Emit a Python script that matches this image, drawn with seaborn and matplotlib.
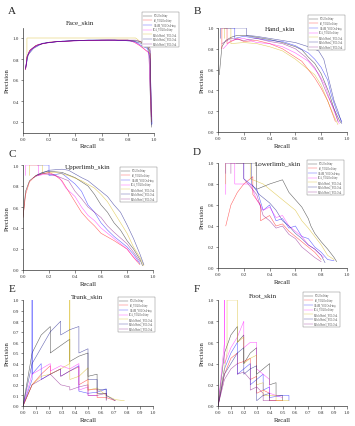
import numpy as np
import pandas as pd
import seaborn as sns
import matplotlib.pyplot as plt

# model names (legend)
models = ["YOLOv4-tiny", "SE_YOLOv4-tiny", "CBAM_YOLOv4-tiny", "ECA_YOLOv4-tiny",
          "MobileNetv1_YOLOv4", "MobileNetv2_YOLOv4", "MobileNetv3_YOLOv4"]
# origin-like default colours
colors = ["#000000", "#FF0000", "#0000FF", "#FF00FF", "#D2B000", "#000080", "#800080"]

# ---- A : Face_skin ----
face_recall = [
    [0.02, 0.03, 0.05, 0.1, 0.2, 0.4, 0.6, 0.8, 0.88, 0.93, 0.96, 0.97, 0.98],
    [0.02, 0.03, 0.05, 0.1, 0.2, 0.4, 0.6, 0.8, 0.85, 0.9, 0.94, 0.97, 0.98],
    [0.02, 0.04, 0.08, 0.15, 0.3, 0.5, 0.7, 0.85, 0.9, 0.95, 0.97, 0.985],
    [0.02, 0.03, 0.06, 0.12, 0.25, 0.45, 0.65, 0.82, 0.88, 0.92, 0.96, 0.98],
    [0.03, 0.03, 0.86, 0.9, 0.95, 0.97, 0.98],
    [0.02, 0.04, 0.08, 0.15, 0.3, 0.5, 0.7, 0.84, 0.9, 0.94, 0.97, 0.98],
    [0.02, 0.03, 0.06, 0.12, 0.25, 0.45, 0.65, 0.86, 0.91, 0.95, 0.97, 0.98],
]
face_prec = [
    [0.70, 0.82, 0.88, 0.93, 0.96, 0.975, 0.98, 0.98, 0.97, 0.95, 0.93, 0.5, 0.15],
    [0.70, 0.81, 0.88, 0.93, 0.96, 0.975, 0.98, 0.98, 0.96, 0.92, 0.88, 0.85, 0.20],
    [0.72, 0.85, 0.91, 0.95, 0.97, 0.98, 0.98, 0.97, 0.93, 0.9, 0.8, 0.18],
    [0.70, 0.82, 0.89, 0.94, 0.965, 0.975, 0.98, 0.975, 0.94, 0.9, 0.86, 0.22],
    [0.80, 1.0, 1.0, 0.96, 0.93, 0.85, 0.20],
    [0.71, 0.84, 0.90, 0.95, 0.97, 0.98, 0.98, 0.97, 0.95, 0.92, 0.88, 0.17],
    [0.70, 0.82, 0.89, 0.94, 0.965, 0.975, 0.98, 0.98, 0.96, 0.94, 0.9, 0.25],
]

# ---- B : Hand_skin ----
hand_recall = [
    [0.01, 0.03, 0.06, 0.1, 0.15, 0.2, 0.25, 0.3, 0.4, 0.5, 0.6, 0.65, 0.7, 0.75, 0.8, 0.83, 0.86, 0.88, 0.9, 0.93, 0.95],
    [0.03, 0.03, 0.07, 0.07, 0.15, 0.2, 0.3, 0.4, 0.5, 0.6, 0.65, 0.7, 0.75, 0.8, 0.85, 0.88, 0.91],
    [0.05, 0.13, 0.13, 0.2, 0.3, 0.4, 0.5, 0.6, 0.7, 0.75, 0.8, 0.85, 0.88, 0.92, 0.96],
    [0.04, 0.1, 0.2, 0.3, 0.4, 0.5, 0.6, 0.7, 0.78, 0.83, 0.87, 0.9, 0.94],
    [0.05, 0.05, 0.1, 0.1, 0.2, 0.3, 0.4, 0.5, 0.6, 0.7, 0.75, 0.8, 0.85, 0.9, 0.93],
    [0.02, 0.02, 0.22, 0.22, 0.3, 0.4, 0.5, 0.6, 0.7, 0.78, 0.82, 0.84, 0.87, 0.9, 0.93, 0.96],
    [0.03, 0.1, 0.2, 0.3, 0.4, 0.5, 0.6, 0.68, 0.75, 0.8, 0.85, 0.9, 0.93],
]
hand_prec = [
    [0.55, 0.82, 0.88, 0.91, 0.93, 0.93, 0.92, 0.91, 0.89, 0.86, 0.82, 0.79, 0.72, 0.66, 0.56, 0.47, 0.38, 0.3, 0.22, 0.14, 0.09],
    [0.8, 1.0, 1.0, 0.85, 0.9, 0.87, 0.88, 0.85, 0.8, 0.72, 0.68, 0.6, 0.52, 0.42, 0.3, 0.2, 0.1],
    [1.0, 1.0, 0.9, 0.92, 0.9, 0.88, 0.87, 0.83, 0.76, 0.7, 0.62, 0.5, 0.35, 0.2, 0.1],
    [0.8, 0.88, 0.9, 0.86, 0.85, 0.82, 0.76, 0.68, 0.56, 0.45, 0.3, 0.2, 0.08],
    [0.9, 1.0, 1.0, 0.85, 0.86, 0.85, 0.82, 0.78, 0.7, 0.6, 0.55, 0.45, 0.3, 0.15, 0.07],
    [0.9, 1.0, 1.0, 0.93, 0.92, 0.9, 0.88, 0.86, 0.82, 0.78, 0.7, 0.6, 0.45, 0.3, 0.2, 0.08],
    [0.85, 0.9, 0.88, 0.9, 0.87, 0.85, 0.8, 0.72, 0.62, 0.5, 0.35, 0.22, 0.1],
]

# ---- C : Upperlimb_skin ----
upper_recall = [
    [0.0, 0.02, 0.05, 0.1, 0.15, 0.2, 0.3, 0.4, 0.5, 0.55, 0.6, 0.65, 0.7, 0.75, 0.8, 0.85, 0.9, 0.92],
    [0.0, 0.02, 0.05, 0.1, 0.2, 0.25, 0.3, 0.35, 0.4, 0.45, 0.5, 0.55, 0.6, 0.7, 0.8, 0.85, 0.9],
    [0.11, 0.2, 0.2, 0.3, 0.4, 0.45, 0.5, 0.55, 0.6, 0.65, 0.7, 0.8, 0.85, 0.9],
    [0.02, 0.02, 0.12, 0.12, 0.2, 0.28, 0.33, 0.4, 0.45, 0.5, 0.55, 0.6, 0.7, 0.8, 0.88],
    [0.05, 0.05, 0.15, 0.15, 0.25, 0.35, 0.45, 0.55, 0.6, 0.65, 0.7, 0.75, 0.8, 0.85, 0.9, 0.93],
    [0.1, 0.2, 0.3, 0.35, 0.45, 0.5, 0.55, 0.6, 0.65, 0.7, 0.75, 0.8, 0.85, 0.9, 0.93],
    [0.08, 0.15, 0.25, 0.35, 0.4, 0.45, 0.5, 0.55, 0.6, 0.65, 0.7, 0.8, 0.85, 0.9],
]
upper_prec = [
    [0.5, 0.75, 0.85, 0.9, 0.93, 0.94, 0.93, 0.88, 0.8, 0.72, 0.62, 0.55, 0.45, 0.38, 0.28, 0.2, 0.1, 0.04],
    [0.5, 0.72, 0.84, 0.9, 0.93, 0.9, 0.85, 0.75, 0.65, 0.55, 0.48, 0.42, 0.35, 0.28, 0.2, 0.12, 0.05],
    [1.0, 1.0, 0.9, 0.92, 0.82, 0.75, 0.62, 0.55, 0.45, 0.38, 0.32, 0.22, 0.15, 0.06],
    [0.9, 1.0, 1.0, 0.9, 0.92, 0.88, 0.78, 0.7, 0.6, 0.52, 0.47, 0.4, 0.3, 0.2, 0.08],
    [0.9, 1.0, 1.0, 0.92, 0.93, 0.9, 0.85, 0.78, 0.72, 0.65, 0.55, 0.45, 0.35, 0.22, 0.12, 0.04],
    [0.9, 0.95, 0.96, 0.95, 0.88, 0.85, 0.8, 0.75, 0.7, 0.62, 0.55, 0.43, 0.3, 0.15, 0.05],
    [0.88, 0.92, 0.9, 0.85, 0.75, 0.68, 0.6, 0.55, 0.5, 0.42, 0.36, 0.25, 0.17, 0.08],
]

# ---- D : Lowerlimb_skin ----
lower_recall = [
    [0.14, 0.3, 0.3, 0.4, 0.5, 0.55, 0.6, 0.65, 0.7, 0.72, 0.75, 0.8, 0.85, 0.9, 0.92],
    [0.06, 0.1, 0.15, 0.2, 0.27, 0.27, 0.33, 0.33, 0.4, 0.45, 0.5, 0.55, 0.6, 0.65, 0.7, 0.75, 0.8],
    [0.06, 0.06, 0.2, 0.2, 0.3, 0.35, 0.4, 0.45, 0.5, 0.55, 0.6, 0.65, 0.7, 0.75, 0.8, 0.85, 0.9],
    [0.06, 0.06, 0.13, 0.13, 0.25, 0.3, 0.35, 0.4, 0.45, 0.5, 0.55, 0.6, 0.65, 0.7, 0.75, 0.82],
    [0.06, 0.06, 0.25, 0.25, 0.35, 0.45, 0.5, 0.55, 0.6, 0.65, 0.7, 0.75, 0.8, 0.85, 0.9],
    [0.2, 0.26, 0.26, 0.32, 0.4, 0.45, 0.5, 0.55, 0.6, 0.65, 0.7, 0.75, 0.8, 0.83],
    [0.1, 0.1, 0.2, 0.2, 0.3, 0.35, 0.4, 0.45, 0.5, 0.55, 0.6, 0.65, 0.7, 0.75, 0.8],
]
lower_prec = [
    [1.0, 1.0, 0.75, 0.8, 0.84, 0.72, 0.65, 0.58, 0.47, 0.4, 0.33, 0.25, 0.18, 0.1, 0.06],
    [0.4, 0.6, 0.72, 0.8, 0.87, 0.7, 0.6, 0.45, 0.5, 0.4, 0.42, 0.35, 0.3, 0.25, 0.2, 0.15, 0.08],
    [0.9, 1.0, 1.0, 0.85, 0.75, 0.55, 0.6, 0.45, 0.47, 0.38, 0.4, 0.3, 0.28, 0.2, 0.15, 0.08, 0.07],
    [0.7, 1.0, 1.0, 0.8, 0.8, 0.65, 0.55, 0.58, 0.48, 0.5, 0.4, 0.35, 0.3, 0.22, 0.18, 0.1],
    [0.8, 1.0, 1.0, 0.85, 0.8, 0.7, 0.65, 0.6, 0.55, 0.45, 0.38, 0.3, 0.22, 0.12, 0.08],
    [1.0, 1.0, 0.8, 0.7, 0.62, 0.55, 0.45, 0.4, 0.33, 0.28, 0.22, 0.18, 0.12, 0.05],
    [0.9, 1.0, 1.0, 0.85, 0.7, 0.5, 0.45, 0.38, 0.4, 0.32, 0.28, 0.2, 0.15, 0.1, 0.06],
]

# ---- E : Trunk_skin ----
trunk_recall = [
    [0, 0.07, 0.14, 0.21, 0.21, 0.29, 0.36, 0.36, 0.43, 0.5, 0.5, 0.57, 0.57, 0.64, 0.64],
    [0, 0.07, 0.14, 0.21, 0.21, 0.29, 0.29, 0.36, 0.43, 0.43, 0.5, 0.5, 0.57, 0.57, 0.64, 0.71],
    [0, 0.07, 0.07, 0.07, 0.14, 0.14, 0.21, 0.29, 0.29, 0.36, 0.43, 0.43, 0.5, 0.57, 0.64, 0.64],
    [0, 0.07, 0.14, 0.21, 0.21, 0.29, 0.36, 0.43, 0.43, 0.5, 0.5, 0.57],
    [0, 0.07, 0.14, 0.21, 0.29, 0.36, 0.36, 0.36, 0.43, 0.5, 0.5, 0.57, 0.64, 0.71, 0.78],
    [0, 0.07, 0.14, 0.21, 0.29, 0.29, 0.36, 0.43, 0.43, 0.5, 0.5, 0.57, 0.57, 0.64, 0.64, 0.71],
    [0, 0.07, 0.14, 0.21, 0.29, 0.36, 0.36, 0.43, 0.5, 0.5, 0.57, 0.64, 0.64],
]
trunk_prec = [
    [0, 0.5, 0.67, 0.75, 0.5, 0.57, 0.63, 0.42, 0.47, 0.5, 0.28, 0.3, 0.12, 0.12, 0.06],
    [0, 0.2, 0.3, 0.38, 0.3, 0.35, 0.28, 0.33, 0.37, 0.2, 0.25, 0.15, 0.16, 0.08, 0.08, 0.05],
    [0, 0.25, 1.0, 0.3, 0.4, 0.25, 0.3, 0.35, 0.28, 0.33, 0.38, 0.14, 0.12, 0.13, 0.16, 0.1],
    [0, 0.3, 0.35, 0.4, 0.33, 0.38, 0.35, 0.4, 0.15, 0.18, 0.1, 0.1],
    [0, 0.2, 0.28, 0.3, 0.35, 0.4, 1.0, 0.25, 0.28, 0.36, 0.15, 0.17, 0.1, 0.06, 0.05],
    [0, 0.4, 0.55, 0.7, 0.8, 0.67, 0.72, 0.75, 0.5, 0.54, 0.25, 0.25, 0.15, 0.16, 0.1, 0.05],
    [0, 0.2, 0.25, 0.3, 0.2, 0.18, 0.15, 0.18, 0.2, 0.1, 0.1, 0.12, 0.05],
]

# ---- F : Foot_skin ----
foot_recall = [
    [0, 0.05, 0.1, 0.15, 0.15, 0.2, 0.2, 0.25, 0.3, 0.3, 0.35, 0.4, 0.4, 0.45, 0.45, 0.5, 0.5],
    [0, 0.05, 0.1, 0.15, 0.15, 0.2, 0.25, 0.25, 0.3, 0.3, 0.35, 0.4, 0.4, 0.5],
    [0, 0.05, 0.1, 0.15, 0.15, 0.2, 0.25, 0.25, 0.3, 0.35, 0.35, 0.4, 0.4, 0.5, 0.55, 0.55],
    [0, 0.05, 0.05, 0.05, 0.1, 0.15, 0.2, 0.2, 0.25, 0.3, 0.3, 0.35, 0.4, 0.4, 0.45, 0.5],
    [0, 0.07, 0.07, 0.15, 0.15, 0.2, 0.2, 0.25, 0.3, 0.3, 0.35, 0.35, 0.4, 0.45, 0.45, 0.55],
    [0, 0.05, 0.1, 0.15, 0.2, 0.2, 0.25, 0.3, 0.3, 0.35, 0.4, 0.4],
    [0, 0.05, 0.1, 0.15, 0.15, 0.2, 0.25, 0.25, 0.3, 0.35, 0.35, 0.45],
]
foot_prec = [
    [0, 0.5, 0.67, 0.75, 0.6, 0.67, 0.4, 0.5, 0.55, 0.3, 0.35, 0.4, 0.2, 0.22, 0.1, 0.1, 0.05],
    [0, 0.3, 0.45, 0.5, 0.4, 0.42, 0.45, 0.25, 0.28, 0.12, 0.15, 0.12, 0.05, 0.05],
    [0, 0.35, 0.5, 0.6, 0.3, 0.35, 0.4, 0.2, 0.25, 0.3, 0.15, 0.18, 0.08, 0.1, 0.1, 0.05],
    [0, 0.6, 1.0, 0.4, 0.55, 0.65, 0.8, 0.55, 0.6, 0.6, 0.35, 0.3, 0.25, 0.12, 0.1, 0.08],
    [0, 0.5, 1.0, 1.0, 0.6, 0.65, 0.4, 0.45, 0.48, 0.2, 0.22, 0.1, 0.1, 0.1, 0.05, 0.05],
    [0, 0.3, 0.4, 0.5, 0.55, 0.3, 0.35, 0.38, 0.05, 0.1, 0.12, 0.05],
    [0, 0.25, 0.35, 0.4, 0.3, 0.32, 0.25, 0.15, 0.18, 0.12, 0.05, 0.05],
]

sns.set_style("ticks")
plt.rcParams['font.family'] = ['Liberation Serif', 'DejaVu Serif']

W, H = 355, 427
fig = plt.figure(figsize=(W / 100, H / 100), dpi=100)


def px_axes(x0, x1, y_top, y_bot):
    # pixel box -> figure fraction
    return fig.add_axes([x0 / W, 1 - y_bot / H, (x1 - x0) / W, (y_bot - y_top) / H])


def draw(ax, recall, prec, title, letter, ylim, yticks, xticks, title_xy, leg_xy, letter_xy):
    rows = []
    for m, r, p in zip(models, recall, prec):
        for i, (a, b) in enumerate(zip(r, p)):
            rows.append((m, i, a, b))
    df = pd.DataFrame(rows, columns=["model", "order", "Recall", "Precision"])
    sns.lineplot(data=df, x="Recall", y="Precision", hue="model", hue_order=models,
                 palette=colors, sort=False, estimator=None, linewidth=0.4, alpha=0.6, ax=ax)
    ax.set_xlim(0, 1)
    ax.set_ylim(*ylim)
    ax.set_xticks(xticks)
    ax.set_yticks(yticks)
    ax.xaxis.set_major_formatter(plt.FormatStrFormatter('%.1f'))
    ax.yaxis.set_major_formatter(plt.FormatStrFormatter('%.1f'))
    ax.tick_params(labelsize=3.6, length=1.8, width=0.4, pad=1.2, colors="#333333")
    for s in ["top", "right"]:
        ax.spines[s].set_visible(False)
    for s in ["left", "bottom"]:
        ax.spines[s].set_linewidth(0.5)
        ax.spines[s].set_color("#333333")
    ax.set_xlabel("Recall", fontsize=4.8, labelpad=2, color="#222222")
    ax.set_ylabel("Precision", fontsize=4.8, labelpad=2, color="#222222")
    fig.text(title_xy[0] / W, 1 - title_xy[1] / H, title, fontsize=5, ha="center", va="center",
             color="#222222")
    fig.text(letter_xy[0] / W, 1 - letter_xy[1] / H, letter, fontsize=8, ha="center", va="center")
    leg = ax.legend(loc="upper left", bbox_to_anchor=(leg_xy[0] / W, 1 - leg_xy[1] / H),
                    bbox_transform=fig.transFigure, fontsize=1.8, frameon=True, fancybox=False,
                    edgecolor="#777777", framealpha=1, handlelength=3.4, handletextpad=0.6,
                    labelspacing=0.28, borderpad=0.55, borderaxespad=0)
    leg.get_frame().set_linewidth(0.3)
    for ln in leg.get_lines():
        ln.set_linewidth(0.35)
    for tx in leg.get_texts():
        tx.set_color("#444444")


t2 = np.round(np.arange(0, 1.01, 0.2), 1)
t1 = np.round(np.arange(0, 1.01, 0.1), 1)

axA = px_axes(23, 154, 28.5, 133.5)
draw(axA, face_recall, face_prec, "Face_skin", "A", (0.1, 1.1), t2[1:], t2,
     (80, 23), (142, 13), (12, 12))

axB = px_axes(218, 347, 29, 133)
draw(axB, hand_recall, hand_prec, "Hand_skin", "B", (0, 1.0), t2, t2,
     (280, 29), (308, 16), (197, 12))

axC = px_axes(23, 153, 166, 271)
draw(axC, upper_recall, upper_prec, "Upperlimb_skin", "C", (0, 1.0), t2, t2,
     (88, 168), (120, 168), (12, 155))

axD = px_axes(218, 347, 164, 269)
draw(axD, lower_recall, lower_prec, "Lowerlimb_skin", "D", (0, 1.0), t2, t2,
     (278, 164), (307, 161), (197, 153))

axE = px_axes(23, 153, 301, 407)
draw(axE, trunk_recall, trunk_prec, "Trunk_skin", "E", (0, 1.0), t1, t1,
     (87, 297), (118, 298), (12, 290))

axF = px_axes(218, 347, 301, 407)
draw(axF, foot_recall, foot_prec, "Foot_skin", "F", (0, 1.0), t2, t1,
     (263, 296), (303, 293), (197, 290))

fig.savefig("out.png", dpi=100, facecolor="white")
